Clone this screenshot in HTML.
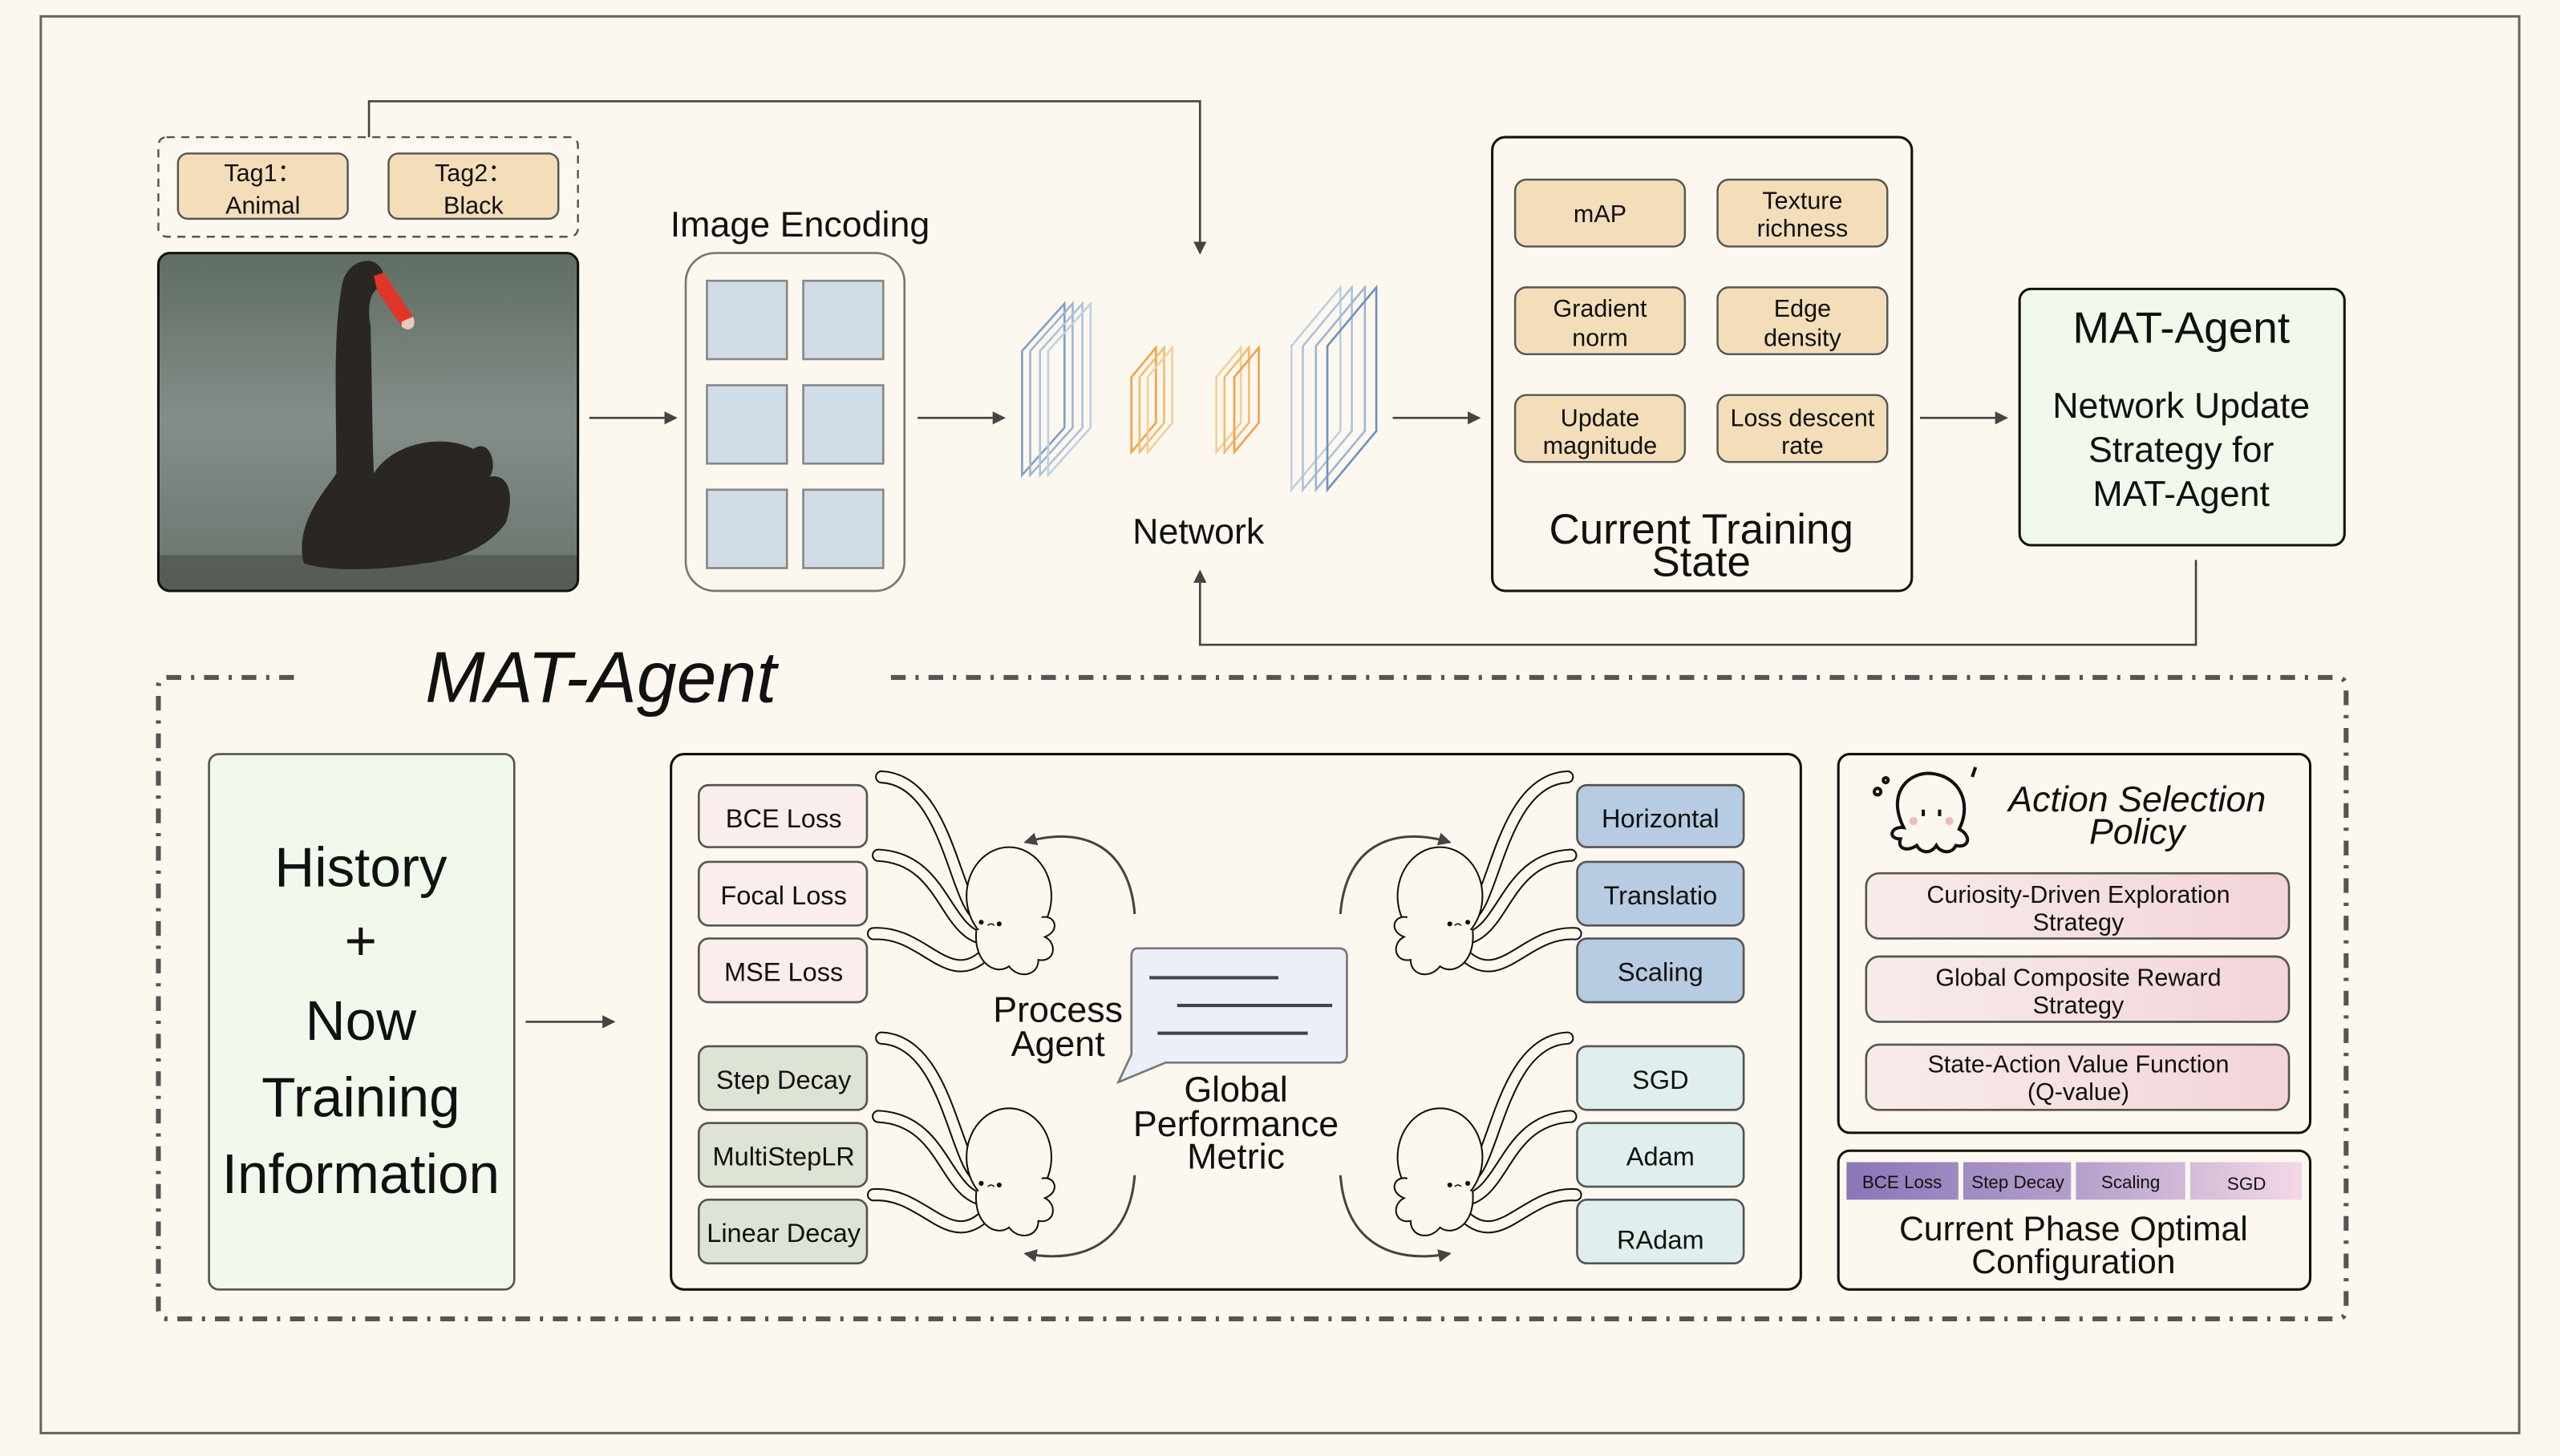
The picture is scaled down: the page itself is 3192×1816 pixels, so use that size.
<!DOCTYPE html>
<html><head><meta charset="utf-8"><style>
html,body{margin:0;padding:0;background:#fdf8ef;}
svg{display:block;}
text{font-family:"Liberation Sans Narrow","Liberation Sans",sans-serif;fill:#111;}
</style></head><body>
<svg width="3192" height="1816" viewBox="0 0 1568 892" xmlns="http://www.w3.org/2000/svg">
<defs>
<marker id="ah" markerWidth="8" markerHeight="8" refX="7" refY="4" orient="auto" markerUnits="userSpaceOnUse"><path d="M0,0 L8,4 L0,8 z" fill="#444"/></marker>
<linearGradient id="water" x1="0" y1="0" x2="0" y2="1"><stop offset="0" stop-color="#5f6d62"/><stop offset="0.5" stop-color="#848e89"/><stop offset="1" stop-color="#6a746d"/></linearGradient>
<linearGradient id="pink" x1="0" y1="0" x2="1" y2="0"><stop offset="0" stop-color="#f8ecea"/><stop offset="1" stop-color="#f3d4d8"/></linearGradient>
<linearGradient id="cfg" x1="0" y1="0" x2="1" y2="0"><stop offset="0" stop-color="#8a76b8"/><stop offset="0.5" stop-color="#b49fcb"/><stop offset="1" stop-color="#f3d8e6"/></linearGradient>
<clipPath id="imgclip"><rect x="97" y="155" width="257" height="207" rx="7"/></clipPath>
<g id="oct">
  <g fill="none" stroke-linecap="round">
    <path d="M602,562 C585,560 582,478 540,476" stroke="#111" stroke-width="8"/>
    <path d="M602,575 C578,570 578,526 538,524" stroke="#111" stroke-width="8"/>
    <path d="M602,586 C580,605 565,570 535,572" stroke="#111" stroke-width="8"/>
    <path d="M602,562 C585,560 582,478 540,476" stroke="#fdf8ef" stroke-width="6"/>
    <path d="M602,575 C578,570 578,526 538,524" stroke="#fdf8ef" stroke-width="6"/>
    <path d="M602,586 C580,605 565,570 535,572" stroke="#fdf8ef" stroke-width="6"/>
  </g>
  <ellipse cx="618" cy="549" rx="26" ry="30" fill="#fdf8ef" stroke="#111" stroke-width="1"/>
  <path d="M598,570 C596,590 610,598 618,592 C624,600 636,598 636,588 C646,590 648,578 640,574 C650,570 646,560 638,562" fill="#fdf8ef" stroke="#111" stroke-width="1"/>
  <circle cx="601" cy="565" r="1.5" fill="#111"/><circle cx="612" cy="566" r="1.5" fill="#111"/>
  <path d="M605,567 q2,-2 4,0" fill="none" stroke="#111" stroke-width="0.7"/>
</g>
</defs>
<rect x="0" y="0" width="1568" height="892" fill="#fdf8ef"/>
<rect x="25" y="10" width="1518" height="868" fill="#fdf8ef" stroke="#666" stroke-width="1.5"/>

<!-- tags -->
<rect x="97" y="84" width="257" height="61" rx="5" fill="none" stroke="#555" stroke-width="1.2" stroke-dasharray="5,4"/>
<rect x="109" y="94" width="104" height="40" rx="6" fill="#f3deb9" stroke="#555" stroke-width="1.2"/>
<rect x="238" y="94" width="104" height="40" rx="6" fill="#f3deb9" stroke="#555" stroke-width="1.2"/>
<text x="161" y="111" font-size="15" text-anchor="middle">Tag1：</text>
<text x="161" y="131" font-size="15" text-anchor="middle">Animal</text>
<text x="290" y="111" font-size="15" text-anchor="middle">Tag2：</text>
<text x="290" y="131" font-size="15" text-anchor="middle">Black</text>

<!-- swan -->
<g clip-path="url(#imgclip)">
<rect x="97" y="155" width="257" height="207" fill="url(#water)"/>
<path d="M97,340 L354,340 L354,362 L97,362z" fill="#3f4438" opacity="0.5"/>
<path d="M186,345 C180,320 200,300 206,290 C206,250 204,205 209,178 C210,163 222,157 230,161 C236,165 236,172 233,176 C226,178 225,190 227,200 C228,240 228,270 229,290 C240,272 270,265 290,275 C300,268 305,285 300,292 C310,290 316,300 310,320 C300,335 280,343 260,345 C230,350 200,350 186,345z" fill="#2a2722"/>
<path d="M229,169 L235,167 L253,194 C256,201 250,204 246,200 L231,178z" fill="#e0352b"/>
<path d="M246,197 L253,194 C256,201 250,204 246,200z" fill="#e8c8c0"/>
</g>
<rect x="97" y="155" width="257" height="207" rx="7" fill="none" stroke="#111" stroke-width="1.5"/>

<!-- arrows top row -->
<line x1="361" y1="256" x2="414" y2="256" stroke="#444" stroke-width="1.3" marker-end="url(#ah)"/>
<line x1="562" y1="256" x2="615" y2="256" stroke="#444" stroke-width="1.3" marker-end="url(#ah)"/>
<line x1="853" y1="256" x2="906" y2="256" stroke="#444" stroke-width="1.3" marker-end="url(#ah)"/>
<line x1="1176" y1="256" x2="1229" y2="256" stroke="#444" stroke-width="1.3" marker-end="url(#ah)"/>
<polyline points="226,84 226,62 735,62 735,155" fill="none" stroke="#444" stroke-width="1.3" marker-end="url(#ah)"/>
<polyline points="1345,343 1345,395 735,395 735,350" fill="none" stroke="#444" stroke-width="1.3" marker-end="url(#ah)"/>

<!-- image encoding -->
<text x="490" y="145" font-size="22" text-anchor="middle">Image Encoding</text>
<rect x="420" y="155" width="134" height="207" rx="18" fill="#fdf8ef" stroke="#777" stroke-width="1.3"/>
<g fill="#d0dce6" stroke="#888" stroke-width="1.3">
<rect x="433" y="172" width="49" height="48"/><rect x="492" y="172" width="49" height="48"/>
<rect x="433" y="236" width="49" height="48"/><rect x="492" y="236" width="49" height="48"/>
<rect x="433" y="300" width="49" height="48"/><rect x="492" y="300" width="49" height="48"/>
</g>

<!-- network layers -->
<g fill="none" stroke-width="1.3">
<path d="M626,215 L652,186 L652,262 L626,291z" stroke="#7fa0c8"/>
<path d="M631,215 L657,186 L657,262 L631,291z" stroke="#9db6d4"/>
<path d="M637,215 L663,186 L663,262 L637,291z" stroke="#aec2da"/>
<path d="M642,215 L668,186 L668,262 L642,291z" stroke="#c0d0e2"/>
<path d="M693,231 L708,213 L708,259 L693,277z" stroke="#f0a24a"/>
<path d="M698,231 L713,213 L713,259 L698,277z" stroke="#f4bb70"/>
<path d="M703,231 L718,213 L718,259 L703,277z" stroke="#f7ce95"/>
<path d="M745,231 L760,213 L760,259 L745,277z" stroke="#f7ce95"/>
<path d="M750,231 L765,213 L765,259 L750,277z" stroke="#f4bb70"/>
<path d="M756,231 L771,213 L771,259 L756,277z" stroke="#f0a24a"/>
<path d="M791,212 L821,176 L821,264 L791,300z" stroke="#c0d0e2"/>
<path d="M798,212 L828,176 L828,264 L798,300z" stroke="#aec2da"/>
<path d="M806,212 L836,176 L836,264 L806,300z" stroke="#9db6d4"/>
<path d="M813,212 L843,176 L843,264 L813,300z" stroke="#6f93c0"/>
</g>
<text x="734" y="333" font-size="22" text-anchor="middle">Network</text>

<!-- training state -->
<rect x="914" y="84" width="257" height="278" rx="8" fill="#fdf8ef" stroke="#111" stroke-width="1.5"/>
<g fill="#f3deb9" stroke="#555" stroke-width="1.2">
<rect x="928" y="110" width="104" height="41" rx="7"/><rect x="1052" y="110" width="104" height="41" rx="7"/>
<rect x="928" y="176" width="104" height="41" rx="7"/><rect x="1052" y="176" width="104" height="41" rx="7"/>
<rect x="928" y="242" width="104" height="41" rx="7"/><rect x="1052" y="242" width="104" height="41" rx="7"/>
</g>
<g font-size="15" text-anchor="middle">
<text x="980" y="136">mAP</text>
<text x="1104" y="128">Texture</text><text x="1104" y="145">richness</text>
<text x="980" y="194">Gradient</text><text x="980" y="212">norm</text>
<text x="1104" y="194">Edge</text><text x="1104" y="212">density</text>
<text x="980" y="261">Update</text><text x="980" y="278">magnitude</text>
<text x="1104" y="261">Loss descent</text><text x="1104" y="278">rate</text>
</g>
<text x="1042" y="333" font-size="26" text-anchor="middle">Current Training</text>
<text x="1042" y="353" font-size="26" text-anchor="middle">State</text>

<!-- MAT-Agent box -->
<rect x="1237" y="177" width="199" height="157" rx="7" fill="#f1f8ec" stroke="#111" stroke-width="1.5"/>
<text x="1336" y="210" font-size="27" text-anchor="middle">MAT-Agent</text>
<text x="1336" y="256" font-size="22" text-anchor="middle">Network Update</text>
<text x="1336" y="283" font-size="22" text-anchor="middle">Strategy for</text>
<text x="1336" y="310" font-size="22" text-anchor="middle">MAT-Agent</text>

<!-- big dashed box -->
<path d="M180,415 L103,415 Q97,415 97,421 L97,802 Q97,808 103,808 L1431,808 Q1437,808 1437,802 L1437,421 Q1437,415 1431,415 L545,415" fill="none" stroke="#555" stroke-width="3" stroke-dasharray="9,6,2,6"/>
<text x="368" y="430" font-size="44" font-style="italic" text-anchor="middle">MAT-Agent</text>

<!-- history -->
<rect x="128" y="462" width="187" height="328" rx="6" fill="#f1f8ec" stroke="#555" stroke-width="1.3"/>
<g font-size="34" text-anchor="middle">
<text x="221" y="543">History</text>
<text x="221" y="588">+</text>
<text x="221" y="637">Now</text>
<text x="221" y="684">Training</text>
<text x="221" y="731">Information</text>
</g>
<line x1="322" y1="626" x2="376" y2="626" stroke="#444" stroke-width="1.3" marker-end="url(#ah)"/>

<!-- middle box -->
<rect x="411" y="462" width="692" height="328" rx="8" fill="#fdf8ef" stroke="#111" stroke-width="1.5"/>
<use href="#oct"/>
<use href="#oct" transform="translate(0,160)"/>
<use href="#oct" transform="translate(1500,0) scale(-1,1)"/>
<use href="#oct" transform="translate(1500,160) scale(-1,1)"/>

<g stroke="#555" stroke-width="1.3">
<g fill="#f9eeec">
<rect x="428" y="481" width="103" height="38" rx="6"/><rect x="428" y="528" width="103" height="39" rx="6"/><rect x="428" y="575" width="103" height="39" rx="6"/></g>
<g fill="#dde3d5">
<rect x="428" y="641" width="103" height="39" rx="6"/><rect x="428" y="688" width="103" height="39" rx="6"/><rect x="428" y="735" width="103" height="39" rx="6"/></g>
<g fill="#b7cbe2">
<rect x="966" y="481" width="102" height="38" rx="6"/><rect x="966" y="528" width="102" height="39" rx="6"/><rect x="966" y="575" width="102" height="39" rx="6"/></g>
<g fill="#e0eeee">
<rect x="966" y="641" width="102" height="39" rx="6"/><rect x="966" y="688" width="102" height="39" rx="6"/><rect x="966" y="735" width="102" height="39" rx="6"/></g>
</g>
<g font-size="16" text-anchor="middle">
<text x="480" y="507">BCE Loss</text><text x="480" y="554">Focal Loss</text><text x="480" y="601">MSE Loss</text>
<text x="480" y="667">Step Decay</text><text x="480" y="714">MultiStepLR</text><text x="480" y="761">Linear Decay</text>
<text x="1017" y="507">Horizontal</text><text x="1017" y="554">Translatio</text><text x="1017" y="601">Scaling</text>
<text x="1017" y="667">SGD</text><text x="1017" y="714">Adam</text><text x="1017" y="765">RAdam</text>
</g>

<!-- curved arrows -->
<g fill="none" stroke="#444" stroke-width="1.5" marker-end="url(#ah)">
<path d="M695,560 C692,520 665,505 628,516"/>
<path d="M821,560 C824,520 851,505 888,516"/>
<path d="M695,720 C692,760 665,775 628,768"/>
<path d="M821,720 C824,760 851,775 888,768"/>
</g>

<!-- speech bubble -->
<path d="M697,581 L820,581 Q825,581 825,586 L825,646 Q825,651 820,651 L714,651 L685,663 L693,646 L693,586 Q693,581 697,581z" fill="#eceef8" stroke="#777" stroke-width="1.3"/>
<g stroke="#444" stroke-width="2"><line x1="704" y1="599" x2="783" y2="599"/><line x1="721" y1="616" x2="816" y2="616"/><line x1="709" y1="633" x2="801" y2="633"/></g>
<text x="648" y="626" font-size="22" text-anchor="middle">Process</text>
<text x="648" y="647" font-size="22" text-anchor="middle">Agent</text>
<text x="757" y="675" font-size="22" text-anchor="middle">Global</text>
<text x="757" y="696" font-size="22" text-anchor="middle">Performance</text>
<text x="757" y="716" font-size="22" text-anchor="middle">Metric</text>

<!-- action selection -->
<rect x="1126" y="462" width="289" height="232" rx="7" fill="#fdf8ef" stroke="#111" stroke-width="1.5"/>
<g fill="none" stroke="#111" stroke-width="2">
<path d="M1166,507 C1155,485 1170,472 1184,474 C1200,476 1208,492 1200,508 C1208,512 1206,520 1198,518 C1195,524 1188,522 1186,518 C1182,524 1176,522 1174,518 C1168,522 1162,520 1164,514 C1156,514 1158,506 1166,507z"/>
<circle cx="1150" cy="485" r="2"/><circle cx="1155" cy="478" r="1.5"/>
<line x1="1210" y1="470" x2="1208" y2="476"/>
</g>
<circle cx="1172" cy="503" r="2.5" fill="#f4b8c0"/><circle cx="1194" cy="503" r="2.5" fill="#f4b8c0"/>
<line x1="1178" y1="496" x2="1178" y2="500" stroke="#111" stroke-width="2"/><line x1="1188" y1="496" x2="1188" y2="500" stroke="#111" stroke-width="2"/>
<text x="1309" y="497" font-size="22" font-style="italic" text-anchor="middle" style="font-family:'Liberation Sans',sans-serif">Action Selection</text>
<text x="1309" y="517" font-size="22" font-style="italic" text-anchor="middle" style="font-family:'Liberation Sans',sans-serif">Policy</text>
<g stroke="#555" stroke-width="1.3" fill="url(#pink)">
<rect x="1143" y="535" width="259" height="40" rx="8"/><rect x="1143" y="586" width="259" height="40" rx="8"/><rect x="1143" y="640" width="259" height="40" rx="8"/>
</g>
<g font-size="15" text-anchor="middle">
<text x="1273" y="553" style="font-family:'Liberation Sans',sans-serif">Curiosity-Driven Exploration</text><text x="1273" y="570" style="font-family:'Liberation Sans',sans-serif">Strategy</text>
<text x="1273" y="604" style="font-family:'Liberation Sans',sans-serif">Global Composite Reward</text><text x="1273" y="621" style="font-family:'Liberation Sans',sans-serif">Strategy</text>
<text x="1273" y="657" style="font-family:'Liberation Sans',sans-serif">State-Action Value Function</text><text x="1273" y="674" style="font-family:'Liberation Sans',sans-serif">(Q-value)</text>
</g>

<!-- config -->
<rect x="1126" y="705" width="289" height="85" rx="7" fill="#fdf8ef" stroke="#111" stroke-width="1.5"/>
<rect x="1131" y="712" width="279" height="23" fill="url(#cfg)"/>
<g stroke="#fdf8ef" stroke-width="3"><line x1="1201" y1="712" x2="1201" y2="735"/><line x1="1270" y1="712" x2="1270" y2="735"/><line x1="1340" y1="712" x2="1340" y2="735"/></g>
<g font-size="11" text-anchor="middle">
<text x="1165" y="728" style="font-family:'Liberation Sans',sans-serif">BCE Loss</text><text x="1236" y="728" style="font-family:'Liberation Sans',sans-serif">Step Decay</text><text x="1305" y="728" style="font-family:'Liberation Sans',sans-serif">Scaling</text><text x="1376" y="729" style="font-family:'Liberation Sans',sans-serif">SGD</text>
</g>
<text x="1270" y="760" font-size="21" text-anchor="middle" style="font-family:'Liberation Sans',sans-serif">Current Phase Optimal</text>
<text x="1270" y="780" font-size="21" text-anchor="middle" style="font-family:'Liberation Sans',sans-serif">Configuration</text>
</svg>
</body></html>
